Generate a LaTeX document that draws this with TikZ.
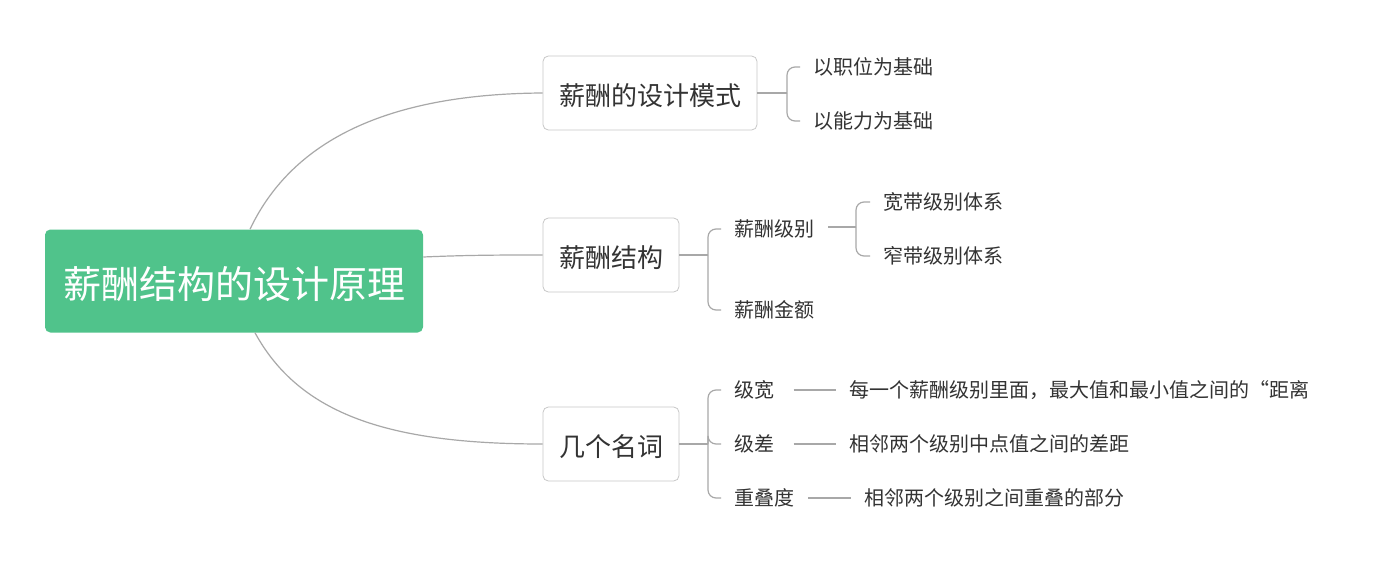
\documentclass[tikz,border=0pt]{standalone}
\usepackage{fontspec}
\setmainfont{Noto Sans CJK SC}
\usetikzlibrary{calc}
\definecolor{maingreen}{HTML}{50C38B}
\definecolor{linegray}{HTML}{A8A8A8}
\definecolor{boxgray}{HTML}{C8C8C8}
\definecolor{txt}{HTML}{333333}
\newcommand{\lowerby}[2]{\raisebox{-#1}[\height][\depth]{#2}}
\begin{document}
\begin{tikzpicture}[x=0.75pt,y=-0.75pt,
  rootbox/.style={fill=maingreen,rounded corners=4pt,text=white,font=\fontsize{28.5pt}{30pt}\selectfont,inner xsep=13.5pt,minimum height=77.25pt},
  childbox/.style={draw=boxgray,line width=0.6pt,fill=white,rounded corners=4pt,text=txt,font=\fontsize{19.5pt}{22pt}\selectfont,inner xsep=12pt,minimum height=55.5pt},
  leaf/.style={text=txt,font=\fontsize{15pt}{17pt}\selectfont,inner xsep=10pt,inner ysep=2pt,anchor=west},
  conn/.style={draw=linegray,line width=0.9pt},
  brk/.style={conn,rounded corners=6pt}]
\useasboundingbox (0,0) rectangle (1376,567);
\fill[white] (0,0) rectangle (1376,567);

% root and first-level nodes
\node[rootbox] (main) at (234,281) {\lowerby{2.5pt}{薪酬结构的设计原理}};
\node[childbox] (p1) at (650,93) {\lowerby{2pt}{薪酬的设计模式}};
\node[childbox] (p2) at (611,255) {\lowerby{2pt}{薪酬结构}};
\node[childbox] (p3) at (611,444) {\lowerby{2pt}{几个名词}};

% curves from root
\draw[conn] ($(main.north)+(16,0)$) .. controls (290,145) and (380,94) .. (p1.west);
\draw[conn] (main.east|-0,257) .. controls (470,255) and (500,255) .. (p2.west);
\draw[conn] ($(main.south)+(21,0)$) .. controls (300,415) and (390,444) .. (p3.west);

% branch 1
\node[leaf] (a1) at (800,67) {以职位为基础};
\node[leaf] (a2) at (800,121) {以能力为基础};
\coordinate (j1) at (787,93);
\draw[conn] (p1.east) -- (j1);
\draw[brk] (j1) |- (a1.west);
\draw[brk] (j1) |- (a2.west);

% branch 2
\node[leaf] (b1) at (721,229) {薪酬级别};
\node[leaf] (b2) at (721,310) {薪酬金额};
\coordinate (j2) at (708,255);
\draw[conn] (p2.east) -- (j2);
\draw[brk] (j2) |- (b1.west);
\draw[brk] (j2) |- (b2.west);

\node[leaf] (c1) at (870,202) {宽带级别体系};
\node[leaf] (c2) at (870,256) {窄带级别体系};
\coordinate (j3) at (856,227);
\draw[conn] (b1.east|-j3) -- (j3);
\draw[brk] (j3) |- (c1.west);
\draw[brk] (j3) |- (c2.west);

% branch 3
\node[leaf] (d1) at (721,390) {级宽};
\node[leaf] (d2) at (721,444) {级差};
\node[leaf] (d3) at (721,498) {重叠度};
\coordinate (j4) at (708,444);
\draw[conn] (p3.east) -- (j4);
\draw[brk] (j4) |- (d1.west);
\draw[brk] (j4) |- (d2.west);
\draw[brk] (j4) |- (d3.west);

\node[leaf] (e1) at (836,390) {每一个薪酬级别里面，最大值和最小值之间的“距离};
\node[leaf] (e2) at (836,444) {相邻两个级别中点值之间的差距};
\node[leaf] (e3) at (851,498) {相邻两个级别之间重叠的部分};
\draw[conn] ([xshift=4pt]d1.east) -- (e1.west);
\draw[conn] ([xshift=4pt]d2.east) -- (e2.west);
\draw[conn] (d3.east) -- (e3.west);
\end{tikzpicture}
\end{document}
